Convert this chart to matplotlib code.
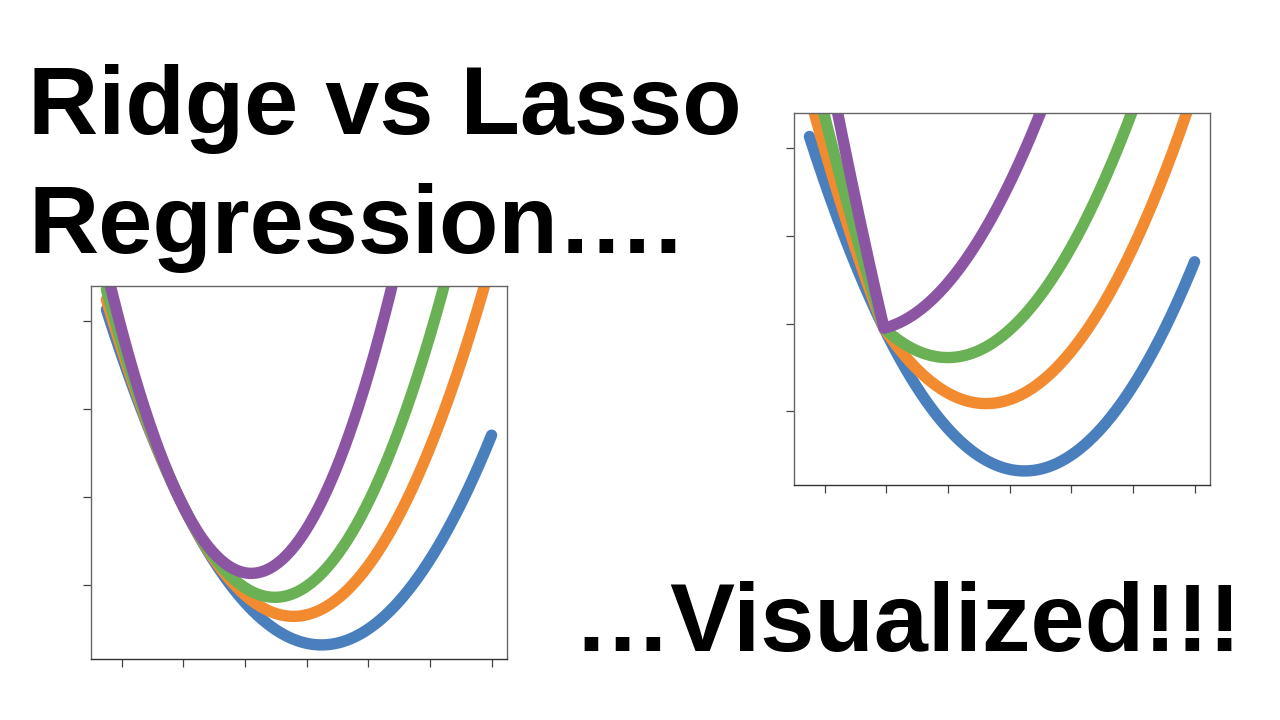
import numpy as np
import matplotlib
matplotlib.use("Agg")
import matplotlib.pyplot as plt

# ---- data (in tick units) ----
x_start, x_end = -0.25, 6.0          # slope range of every curve
ssr_vertex_slope = 3.24               # least-squares slope (blue minimum)
ssr_vertex_value = 0.32               # minimum sum of squared residuals
ssr_curvature = 0.313                 # curvature of the SSR parabola
zero_slope = 0.96                     # position of slope = 0 on the x axis
ridge_lambdas = [0.0, 0.078, 0.156, 0.313]
lasso_lambdas = [0.0, 0.39, 0.78, 1.60]
curve_colors = ["#4a7fbd", "#f28b30", "#6ab155", "#8c55a3"]
x_ticks = [0, 1, 2, 3, 4, 5, 6]
y_ticks = [1, 2, 3, 4]
title_lines = ["Ridge vs Lasso", "Regression…."]
footer = "…Visualized!!!"

W, H = 1280, 720
fig = plt.figure(figsize=(W / 100, H / 100), dpi=100)
fig.patch.set_facecolor("white")

slopes = np.linspace(x_start, x_end, 600)
ssr = ssr_curvature * (slopes - ssr_vertex_slope) ** 2 + ssr_vertex_value


def make_axes(left_px, top_px, right_px, bottom_px):
    ax = fig.add_axes([left_px / W, 1 - bottom_px / H,
                       (right_px - left_px) / W, (bottom_px - top_px) / H])
    ax.set_xlim(-0.5, 6.25)
    ax.set_ylim(0.16, 4.40)
    ax.set_xticks(x_ticks)
    ax.set_yticks(y_ticks)
    ax.set_xticklabels([])
    ax.set_yticklabels([])
    ax.tick_params(direction="out", length=5.5, width=0.9, color="#444444")
    for s in ax.spines.values():
        s.set_color("#666666")
        s.set_linewidth(1.0)
    ax.spines["bottom"].set_color("#333333")
    return ax


# Ridge panel (left)
ax1 = make_axes(91, 286, 507, 659)
for lam, col in zip(ridge_lambdas, curve_colors):
    y = ssr + lam * (slopes - zero_slope) ** 2
    ax1.plot(slopes, y, color=col, lw=8.2, solid_capstyle="round")

# Lasso panel (right)
ax2 = make_axes(794, 113, 1210, 485)
for lam, col in zip(lasso_lambdas, curve_colors):
    y = ssr + lam * np.abs(slopes - zero_slope)
    ax2.plot(slopes, y, color=col, lw=8.2, solid_capstyle="round",
             solid_joinstyle="round")

font = dict(family=["Liberation Sans", "DejaVu Sans"], weight="bold",
            size=70, color="black")
fig.text(28.5 / W, 1 - 134 / H, title_lines[0], ha="left", va="baseline", **font)
fig.text(28.5 / W, 1 - 253 / H, title_lines[1], ha="left", va="baseline", **font)
fig.text(1241 / W, 1 - 651 / H, footer, ha="right", va="baseline", **font)

fig.savefig("out.png", dpi=100, facecolor="white")
